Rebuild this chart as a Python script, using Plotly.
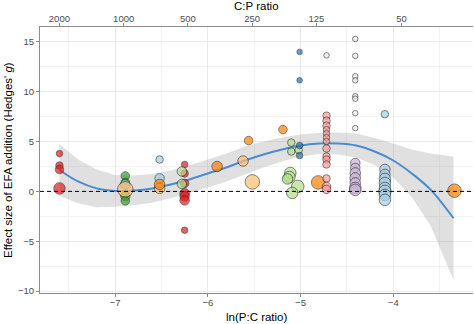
import numpy as np
import plotly.graph_objects as go

# ---- smoothed trend (loess) with its confidence band, ln(P:C) on x ----
fit_x = [-7.60, -7.40, -7.20, -7.00, -6.80, -6.60, -6.40, -6.20, -6.00, -5.80, -5.60,
         -5.40, -5.20, -5.00, -4.80, -4.60, -4.40, -4.20, -4.00, -3.80, -3.60, -3.35]
fit_y = [2.15, 1.00, 0.30, 0.05, 0.10, 0.30, 0.70, 1.20, 1.80, 2.40, 3.10,
         3.70, 4.20, 4.60, 4.80, 4.80, 4.60, 4.00, 3.10, 1.80, 0.20, -2.70]
fit_lo = [-0.45, -1.20, -1.60, -1.55, -1.40, -1.15, -0.70, -0.20, 0.40, 1.00, 1.70,
          2.40, 3.00, 3.50, 3.75, 3.70, 3.40, 2.65, 1.40, -0.60, -3.40, -8.90]
fit_hi = [4.75, 3.20, 2.20, 1.65, 1.60, 1.75, 2.10, 2.60, 3.20, 3.80, 4.50,
          5.00, 5.40, 5.70, 5.85, 5.90, 5.80, 5.35, 4.80, 4.20, 3.80, 3.50]

# ---- effect sizes per study group: ln(P:C), Hedges' g, weight ----
red_x = [-7.60, -7.60, -7.60, -7.60, -6.25, -6.25, -6.25, -6.25, -6.25, -6.25, -6.25]
red_g = [3.8, 2.6, 2.2, 0.3, 2.7, 1.8, 0.8, -0.2, -0.5, -0.9, -3.9]
red_w = [2, 3, 4, 7, 2, 3, 4, 5, 5, 5, 2]

green_x = [-6.89, -6.89, -6.89, -6.89]
green_g = [1.55, 0.9, -0.45, -0.95]
green_w = [4, 4, 5, 4]

lgreen_x = [-6.28, -6.28, -5.10, -5.10, -5.02, -5.11, -5.12, -5.14, -5.03, -5.09]
lgreen_g = [2.0, 0.75, 4.9, 4.0, 4.15, 1.85, 1.45, 1.25, 0.5, -0.15]
lgreen_w = [5, 5, 3, 3, 3, 7, 7, 6, 8, 7]

lblue_x = [-6.89, -6.52, -6.52, -4.09, -4.09, -4.09, -4.09, -4.09, -4.09, -4.09, -4.09, -4.09]
lblue_g = [0.7, 3.2, 1.3, 7.75, 2.2, 1.7, 1.25, 0.85, 0.35, 0.0, -0.35, -0.85]
lblue_w = [5, 3, 5, 3, 6, 6, 7, 7, 7, 8, 7, 7]

dblue_x = [-5.01, -5.01, -5.01, -5.01]
dblue_g = [14.0, 11.15, 4.6, 3.6]
dblue_w = [1, 1, 2, 2]

orange_x = [-6.52, -5.90, -5.56, -5.19, -4.81, -3.34]
orange_g = [0.7, 2.5, 5.1, 6.2, 0.9, 0.07]
orange_w = [6, 6, 4, 4, 9, 9]

lorange_x = [-6.89, -6.52, -5.62, -5.52]
lorange_g = [0.2, 0.3, 3.05, 0.95]
lorange_w = [11, 6, 6, 10]

pink_x = [-4.72] * 14
pink_g = [7.6, 7.1, 6.6, 6.2, 5.8, 5.4, 5.0, 4.3, 3.5, 3.2, 2.7, 1.3, 0.5, 0.2]
pink_w = [3, 3, 3, 2, 2, 2, 2, 3, 3, 3, 3, 3, 4, 4]

purple_x = [-4.41] * 7
purple_g = [2.85, 2.35, 1.85, 1.35, 0.85, 0.35, 0.15]
purple_w = [5, 5, 6, 6, 6, 7, 7]

pale_x = [-4.72, -4.41, -4.41, -4.41, -4.41, -4.41, -4.41, -4.41, -4.41]
pale_g = [13.65, 15.3, 13.6, 11.55, 11.15, 9.55, 9.3, 7.85, 6.35]
pale_w = [1, 1, 1, 1, 1, 1, 1, 1, 1]

# ---- axis ticks ----
x_ticks = [-7, -6, -5, -4]
y_ticks = [-10, -5, 0, 5, 10, 15]
cp_ticks = [2000, 1000, 500, 250, 125, 50]

groups = [
    (red_x, red_g, red_w, "#E31A1C"),
    (green_x, green_g, green_w, "#33A02C"),
    (lblue_x, lblue_g, lblue_w, "#A6CEE3"),
    (lorange_x, lorange_g, lorange_w, "#FDBF6F"),
    (orange_x, orange_g, orange_w, "#FF7F00"),
    (lgreen_x, lgreen_g, lgreen_w, "#B2DF8A"),
    (dblue_x, dblue_g, dblue_w, "#1F78B4"),
    (pink_x, pink_g, pink_w, "#FB9A99"),
    (purple_x, purple_g, purple_w, "#CAB2D6"),
    (pale_x, pale_g, pale_w, "#EDE6F2"),
]

fig = go.Figure()

# confidence band
fig.add_trace(go.Scatter(
    x=fit_x + fit_x[::-1], y=fit_hi + fit_lo[::-1],
    fill="toself", fillcolor="rgba(153,153,153,0.3)",
    line=dict(width=0), mode="lines", hoverinfo="skip", showlegend=False))

# trend line
fig.add_trace(go.Scatter(
    x=fit_x, y=fit_y, mode="lines", line=dict(color="#4A8CCF", width=2, shape="spline"),
    showlegend=False, hoverinfo="skip"))

# study points, sized by weight
for gx, gy, gw, col in groups:
    fig.add_trace(go.Scatter(
        x=gx, y=gy, mode="markers",
        marker=dict(size=[4.5 + w for w in gw], color=col,
                    line=dict(color="#222222", width=0.8)),
        showlegend=False))

# second axis carrying the C:P ratio scale on top
fig.add_trace(go.Scatter(x=[fit_x[0]], y=[fit_y[0]], xaxis="x2", mode="markers",
                         marker=dict(opacity=0), showlegend=False, hoverinfo="skip"))

x_range = [-7.81, -3.14]
y_range = [-10.2, 16.5]
tick_font = dict(family="Liberation Sans, Arial, sans-serif", size=9.5, color="#4D4D4D")
title_font = dict(family="Liberation Sans, Arial, sans-serif", size=11.5, color="#000000")

axis_common = dict(
    showline=True, linecolor="#8C8C8C", linewidth=1, mirror=False,
    ticks="outside", ticklen=3, tickcolor="#8C8C8C", tickwidth=1,
    tickfont=tick_font, zeroline=False,
    showgrid=True, gridcolor="#EBEBEB", gridwidth=1,
)

fig.update_layout(
    width=474, height=324,
    margin=dict(l=40, r=1, t=27, b=31, autoexpand=False),
    paper_bgcolor="white", plot_bgcolor="white",
    xaxis=dict(range=x_range, tickvals=x_ticks, ticklabelstandoff=-2, **axis_common,
               minor=dict(dtick=0.5, tick0=-7.5, showgrid=True, gridcolor="#F3F3F3",
                          gridwidth=0.7, ticks="")),
    yaxis=dict(range=y_range, tickvals=y_ticks, **axis_common,
               minor=dict(dtick=2.5, tick0=-7.5, showgrid=True, gridcolor="#F3F3F3",
                          gridwidth=0.7, ticks="")),
    xaxis2=dict(range=x_range, overlaying="x", side="top",
                tickvals=[float(np.log(1.0 / c)) for c in cp_ticks],
                ticktext=[str(c) for c in cp_ticks],
                showline=True, linecolor="#8C8C8C", linewidth=1,
                ticks="outside", ticklen=3, tickcolor="#8C8C8C", ticklabelstandoff=-3,
                tickfont=tick_font, showgrid=False, zeroline=False),
    showlegend=False,
)

# reference line at zero effect
fig.add_shape(type="line", xref="paper", yref="y", x0=0, x1=1, y0=0, y1=0,
              line=dict(color="#000000", width=1, dash="4px,3px"), layer="above")

# axis titles
fig.add_annotation(text="C:P ratio", xref="paper", yref="paper", x=0.5, y=1,
                   yshift=21, showarrow=False, font=title_font, yanchor="middle")
fig.add_annotation(text="ln(P:C ratio)", xref="paper", yref="paper", x=0.5, y=0,
                   yshift=-24, showarrow=False, font=title_font, yanchor="middle")
fig.add_annotation(text="Effect size of EFA addition (Hedges' <i>g</i>)",
                   xref="paper", yref="paper", x=0, y=0.5, xshift=-32,
                   textangle=-90, showarrow=False, font=title_font,
                   xanchor="center", yanchor="middle")

fig.write_html("out.html")
